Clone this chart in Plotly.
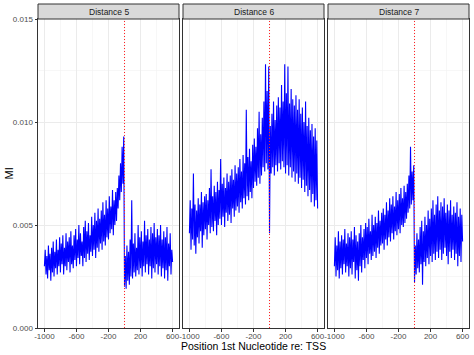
import plotly.graph_objects as go

# positions (nt relative to TSS), sampled every 10 nt
positions = list(range(-1000, 601, 10))

panel_titles = ["Distance 5", "Distance 6", "Distance 7"]

mi_distance5 = [
    .0030, .0038, .0026, .0035, .0024, .0040, .0028, .0036, .0023, .0039,
    .0027, .0042, .0025, .0037, .0029, .0043, .0026, .0038, .0030, .0044,
    .0027, .0041, .0031, .0045, .0026, .0039, .0030, .0046, .0028, .0042,
    .0032, .0044, .0027, .0047, .0031, .0040, .0029, .0045, .0033, .0048,
    .0030, .0043, .0034, .0050, .0031, .0046, .0035, .0042, .0030, .0049,
    .0034, .0052, .0032, .0047, .0036, .0051, .0033, .0045, .0037, .0054,
    .0035, .0050, .0038, .0056, .0034, .0052, .0039, .0058, .0037, .0053,
    .0041, .0057, .0038, .0061, .0042, .0055, .0040, .0062, .0044, .0058,
    .0043, .0064, .0046, .0059, .0048, .0067, .0045, .0062, .0050, .0066,
    .0052, .0068, .0058, .0074, .0062, .0080, .0066, .0088, .0070, .0093,
    .0020, .0035, .0019, .0040, .0023, .0037, .0021, .0043, .0025, .0062,
    .0024, .0041, .0027, .0046, .0025, .0039, .0028, .0050, .0026, .0044,
    .0029, .0047, .0025, .0042, .0030, .0052, .0027, .0045, .0031, .0048,
    .0026, .0043, .0030, .0049, .0024, .0046, .0029, .0051, .0027, .0044,
    .0031, .0048, .0026, .0045, .0030, .0050, .0025, .0043, .0029, .0047,
    .0024, .0044, .0028, .0049, .0023, .0041, .0030, .0046, .0026, .0038,
    .0032,
]

mi_distance6 = [
    .0046, .0062, .0038, .0058, .0043, .0075, .0040, .0060, .0036, .0057,
    .0044, .0063, .0041, .0060, .0047, .0066, .0039, .0061, .0045, .0064,
    .0048, .0065, .0043, .0062, .0050, .0068, .0046, .0077, .0049, .0064,
    .0047, .0069, .0052, .0066, .0045, .0071, .0050, .0067, .0053, .0082,
    .0050, .0070, .0054, .0073, .0049, .0068, .0056, .0075, .0052, .0071,
    .0055, .0074, .0051, .0077, .0058, .0072, .0054, .0079, .0057, .0075,
    .0059, .0078, .0056, .0082, .0061, .0076, .0058, .0084, .0063, .0080,
    .0060, .0106, .0064, .0083, .0062, .0087, .0066, .0081, .0063, .0089,
    .0068, .0092, .0071, .0088, .0069, .0097, .0073, .0105, .0070, .0094,
    .0074, .0102, .0078, .0110, .0076, .0128, .0080, .0115, .0077, .0127,
    .0046, .0098, .0075, .0104, .0078, .0110, .0074, .0101, .0079, .0108,
    .0076, .0112, .0080, .0107, .0077, .0118, .0081, .0110, .0078, .0128,
    .0075, .0114, .0079, .0127, .0074, .0109, .0078, .0116, .0073, .0111,
    .0076, .0108, .0071, .0113, .0075, .0106, .0070, .0111, .0073, .0104,
    .0068, .0107, .0072, .0100, .0066, .0110, .0069, .0098, .0064, .0102,
    .0067, .0096, .0061, .0099, .0065, .0093, .0059, .0097, .0062, .0091,
    .0058,
]

mi_distance7 = [
    .0030, .0044, .0025, .0040, .0028, .0047, .0024, .0042, .0029, .0045,
    .0026, .0043, .0031, .0048, .0027, .0041, .0030, .0046, .0025, .0044,
    .0029, .0047, .0026, .0043, .0032, .0049, .0024, .0045, .0028, .0042,
    .0023, .0046, .0030, .0050, .0027, .0044, .0033, .0048, .0029, .0051,
    .0034, .0049, .0031, .0053, .0036, .0047, .0033, .0055, .0035, .0050,
    .0037, .0054, .0034, .0051, .0039, .0057, .0036, .0052, .0040, .0056,
    .0041, .0058, .0038, .0055, .0043, .0061, .0040, .0057, .0044, .0063,
    .0042, .0060, .0046, .0064, .0043, .0059, .0047, .0066, .0045, .0062,
    .0048, .0065, .0046, .0068, .0050, .0063, .0049, .0069, .0051, .0066,
    .0053, .0070, .0056, .0074, .0058, .0088, .0060, .0076, .0062, .0079,
    .0022, .0040, .0026, .0046, .0029, .0043, .0027, .0049, .0031, .0052,
    .0021, .0047, .0032, .0054, .0030, .0050, .0034, .0057, .0031, .0053,
    .0035, .0058, .0032, .0062, .0036, .0055, .0033, .0060, .0037, .0064,
    .0034, .0057, .0038, .0061, .0033, .0059, .0036, .0063, .0039, .0056,
    .0035, .0060, .0031, .0057, .0037, .0062, .0034, .0055, .0038, .0059,
    .0033, .0056, .0036, .0061, .0030, .0054, .0035, .0058, .0032, .0055,
    .0042,
]

x_ticks = [-1000, -600, -200, 200, 600]
x_minor = [-800, -400, 0, 400]
y_ticks = [0.000, 0.005, 0.010, 0.015]
y_tick_text = ["0.000", "0.005", "0.010", "0.015"]
y_minor = [0.0025, 0.0075, 0.0125]
tss_position = 0
y_limits = [0, 0.015]

series = [mi_distance5, mi_distance6, mi_distance7]

W, H = 474, 355
ML, MR, MT, MB = 38, 5, 19, 27
plot_w = W - ML - MR
plot_h = H - MT - MB
panel_px = 141
panel_starts_px = [0, 145, 290]
domains = [[s / plot_w, (s + panel_px) / plot_w] for s in panel_starts_px]
domains[2][1] = 1.0

FONT = "Liberation Sans, Arial, Helvetica, sans-serif"

fig = go.Figure()
for i, vals in enumerate(series):
    xa = "x" if i == 0 else f"x{i+1}"
    ya = "y" if i == 0 else f"y{i+1}"
    fig.add_trace(go.Scatter(
        x=positions, y=vals, mode="lines",
        line=dict(color="#0000ff", width=1.1),
        xaxis=xa, yaxis=ya, showlegend=False, hoverinfo="skip",
    ))
    # TSS dotted line (drawn on top of the data)
    fig.add_trace(go.Scatter(
        x=[tss_position, tss_position], y=y_limits, mode="lines",
        line=dict(color="#ff2020", width=1, dash="1px,2px"),
        xaxis=xa, yaxis=ya, showlegend=False, hoverinfo="skip",
    ))

layout = dict(
    width=W, height=H,
    margin=dict(l=ML, r=MR, t=MT, b=MB),
    paper_bgcolor="white", plot_bgcolor="white",
    font=dict(family=FONT, color="#4d4d4d"),
    showlegend=False,
)

shapes = []
annotations = []
strip_h = 15 / plot_h
for i in range(3):
    sfx = "" if i == 0 else str(i + 1)
    layout[f"xaxis{sfx}"] = dict(
        domain=domains[i], range=[-1080, 680], anchor=f"y{sfx}",
        tickvals=x_ticks, ticktext=[str(v) for v in x_ticks],
        tickfont=dict(size=8, color="#4d4d4d", family=FONT),
        ticks="outside", ticklen=2.5, tickcolor="#333333", tickwidth=1,
        ticklabelstandoff=-2,
        showgrid=True, gridcolor="#ebebeb", gridwidth=1,
        minor=dict(tickvals=x_minor, showgrid=True, gridcolor="#f2f2f2", gridwidth=0.6, ticks=""),
        showline=True, linecolor="#333333", linewidth=1, mirror=True,
        zeroline=False, fixedrange=True,
    )
    layout[f"yaxis{sfx}"] = dict(
        domain=[0, 1], range=y_limits, anchor=f"x{sfx}",
        tickvals=y_ticks, ticktext=y_tick_text,
        showticklabels=(i == 0),
        tickfont=dict(size=8, color="#4d4d4d", family=FONT),
        ticks="outside" if i == 0 else "", ticklen=2.5, tickcolor="#333333", tickwidth=1,
        showgrid=True, gridcolor="#ebebeb", gridwidth=1,
        minor=dict(tickvals=y_minor, showgrid=True, gridcolor="#f2f2f2", gridwidth=0.6, ticks=""),
        showline=True, linecolor="#333333", linewidth=1, mirror=True,
        zeroline=False, fixedrange=True,
    )
    # strip
    shapes.append(dict(
        type="rect", xref="paper", yref="paper",
        x0=domains[i][0], x1=domains[i][1], y0=1, y1=1 + strip_h,
        fillcolor="#d9d9d9", line=dict(color="#333333", width=1), layer="above",
    ))
    annotations.append(dict(
        text=panel_titles[i], xref="paper", yref="paper",
        x=(domains[i][0] + domains[i][1]) / 2, y=1 + strip_h / 2,
        xanchor="center", yanchor="middle", showarrow=False,
        font=dict(size=8.5, color="#1a1a1a", family=FONT),
    ))

annotations.append(dict(
    text="Position 1st Nucleotide re: TSS", xref="paper", yref="paper",
    x=0.5, y=-18 / plot_h, xanchor="center", yanchor="middle", showarrow=False,
    font=dict(size=10.5, color="black", family=FONT),
))
annotations.append(dict(
    text="MI", xref="paper", yref="paper",
    x=-30 / plot_w, y=0.5, xanchor="center", yanchor="middle", showarrow=False,
    textangle=-90, font=dict(size=11, color="black", family=FONT),
))

layout["shapes"] = shapes
layout["annotations"] = annotations
fig.update_layout(**layout)
fig.write_html(
    "out.html",
    config={"displayModeBar": False, "staticPlot": True},
    post_script="document.body.style.margin='0';document.body.style.overflow='hidden';",
)
